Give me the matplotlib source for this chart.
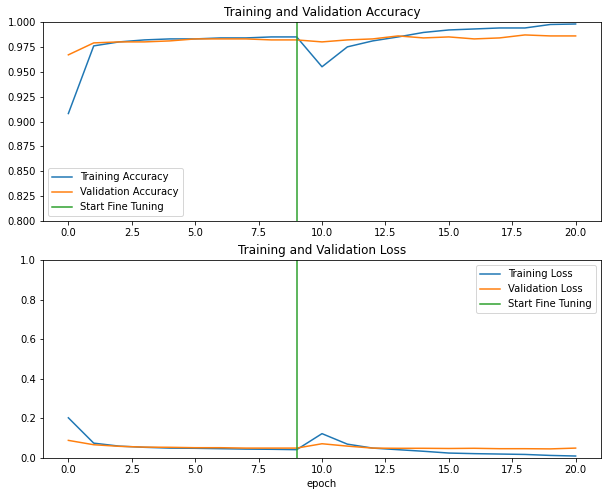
import matplotlib
matplotlib.use('Agg')
import matplotlib.pyplot as plt

# values
epochs = list(range(21))
acc = [0.908, 0.976, 0.980, 0.982, 0.983, 0.983, 0.984, 0.984, 0.985, 0.985,
       0.955, 0.975, 0.981, 0.985, 0.9895, 0.992, 0.993, 0.994, 0.994, 0.9975, 0.998]
val_acc = [0.967, 0.979, 0.980, 0.980, 0.981, 0.983, 0.983, 0.983, 0.982, 0.982,
           0.980, 0.982, 0.983, 0.986, 0.984, 0.985, 0.983, 0.984, 0.987, 0.986, 0.986]
loss = [0.203, 0.075, 0.060, 0.054, 0.050, 0.049, 0.047, 0.045, 0.044, 0.042,
        0.123, 0.070, 0.050, 0.042, 0.034, 0.025, 0.022, 0.020, 0.018, 0.013, 0.010]
val_loss = [0.089, 0.067, 0.059, 0.055, 0.054, 0.052, 0.052, 0.050, 0.050, 0.050,
            0.072, 0.060, 0.050, 0.049, 0.049, 0.048, 0.049, 0.047, 0.047, 0.046, 0.050]
initial_epochs = 9

# the reference is a 72 dpi inline render
DPI = 72
fig = plt.figure(figsize=(608 / DPI, 496 / DPI), dpi=DPI)

ax1 = fig.add_axes([43 / 608, 1 - 221 / 496, 558 / 608, 199 / 496])
ax1.plot(epochs, acc, label='Training Accuracy')
ax1.plot(epochs, val_acc, label='Validation Accuracy')
ax1.set_ylim([0.8, 1])
ax1.plot([initial_epochs, initial_epochs], ax1.get_ylim(), label='Start Fine Tuning')
ax1.legend(loc='lower left')
ax1.set_title('Training and Validation Accuracy')

ax2 = fig.add_axes([43 / 608, 1 - 458 / 496, 558 / 608, 198 / 496])
ax2.plot(epochs, loss, label='Training Loss')
ax2.plot(epochs, val_loss, label='Validation Loss')
ax2.set_ylim([0, 1.0])
ax2.plot([initial_epochs, initial_epochs], ax2.get_ylim(), label='Start Fine Tuning')
ax2.legend(loc='upper right')
ax2.set_title('Training and Validation Loss')
ax2.set_xlabel('epoch')

fig.savefig('out.png', dpi=DPI)
